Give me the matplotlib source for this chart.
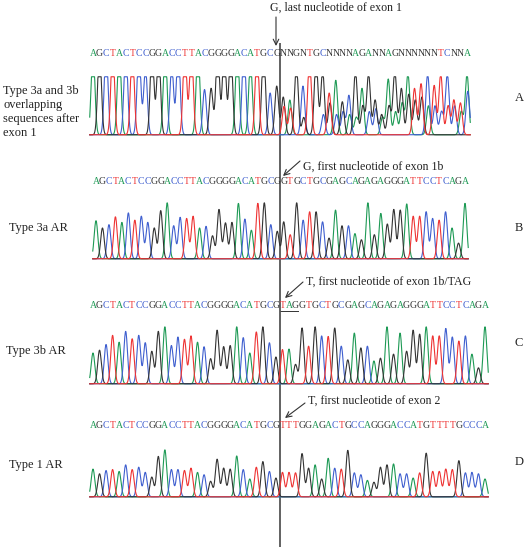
"""
Sanger chromatograms of the AR exon 1 junction, four transcript types
"""

import matplotlib.pyplot as plt
import numpy as np

plt.rcParams['font.family'] = ['Liberation Serif', 'DejaVu Serif']

W, H = 528, 550

# called base sequences printed above each trace
SEQ_A = "AGCTACTCCGGACCTTACGGGGACATGCGNNGNTGCNNNNAGANNAGNNNNNNTCNNA"
SEQ_B = "AGCTACTCCGGACCTTACGGGGACATGCGGTGCTGCGAGCAGAGAGGGATTCCTCAGA"
SEQ_C = "AGCTACTCCGGACCTTACGGGGACATGCGTAGGTGCTGCGAGCAGAGAGGGATTCCTCAGA"
SEQ_D = "AGCTACTCCGGACCTTACGGGGACATGCGTTTGGAGACTGCCAGGGACCATGTTTTGCCCA"

# panel A is a mix of two templates after exon 1: main and secondary peaks
A_MAIN = "AGCTACTCCGGACCTTACGGGGACATGCGGAGCTGGTAGCGAGGGAGGATTCTTCTTA"
A_MAIN_H = [1.5, 1.5, 1.5, 1.5, 1.5, 1.5, 1.5, 1.5, 1.15, 1.5,
            1.5, 1.5, 1.2, 1.5, 1.5, 1.5, 1.5, 0.78, 0.8, 1.5,
            1.5, 1.5, 1.5, 1.5, 1.25, 1.5, 1.5, 0.72, 0.84,
            0.65, 0.6, 1.2, 0.84, 1.3, 1.3, 1.1, 0.72, 0.94, 0.57,
            0.68, 1.1, 0.8, 1.05, 0.6, 0.35, 0.96, 1.1, 0.8, 1.05,
            0.8, 0.88, 1.05, 0.85, 1.05, 1.05, 0.6, 0.55, 1.05]
A_SEC = "-----------------------------TT-G--CGCCAAGCCAGAAGGGACCTCAC"
A_SEC_H = [0] * 29 + [0.49, 0.46, 0, 0.3, 0, 0, 0.35, 0.55, 0.35, 0.4,
                      0.35, 0.3, 0.5, 0.4, 0.45, 0.3, 0.5, 0.4, 0.55, 0.7,
                      0.6, 0.65, 0.5, 0.5, 0.4, 0.5, 0.5, 0.4, 0.75]

B_H = [0.68, 0.55, 0.61, 0.75, 0.65, 0.82, 0.69, 0.76, 0.65, 0.55,
       0.86, 1.0, 0.59, 0.74, 0.72, 0.76, 0.55, 0.58, 0.41, 0.88,
       0.64, 0.65, 0.99, 0.71, 0.51, 0.99, 1.0, 0.61, 0.49, 0.66,
       0.43, 1.0, 0.69, 0.84, 0.84, 0.66, 0.37, 0.87, 0.59, 0.59,
       0.45, 0.34, 1.0, 0.43, 0.81, 0.62, 0.88, 0.87, 0.98, 0.76,
       0.76, 0.84, 0.72, 0.69, 0.84, 0.55, 0.28, 0.99]

C_H = [0.54, 0.59, 0.69, 0.85, 0.73, 0.92, 0.79, 0.85, 0.72, 0.57,
       0.92, 1.0, 0.67, 0.82, 0.78, 0.84, 0.73, 0.65, 0.44, 0.94,
       0.65, 0.67, 1.0, 0.81, 0.54, 0.91, 1.0, 0.72, 0.47, 0.60,
       0.61, 0.34, 0.98, 0.66, 1.0, 0.84, 0.83, 0.98, 0.66, 0.42,
       0.89, 0.63, 0.66, 0.40, 0.45, 1.0, 0.52, 0.89, 0.57, 0.94,
       0.87, 1.0, 0.84, 0.84, 0.97, 0.82, 0.75, 0.84, 0.52, 0.28, 1.0]

D_H = [0.59, 0.49, 0.56, 0.58, 0.54, 0.68, 0.58, 0.63, 0.52, 0.42,
       0.86, 1.0, 0.58, 0.58, 0.56, 0.61, 0.52, 0.47, 0.33, 0.80,
       0.61, 0.59, 0.87, 0.58, 0.38, 0.63, 0.75, 0.54, 0.40, 0.52,
       0.52, 0.51, 0.92, 0.61, 0.68, 0.38, 0.82, 0.61, 0.59, 0.99,
       0.51, 0.47, 0.35, 0.31, 0.63, 0.68, 0.70, 0.49, 0.49, 0.40,
       0.51, 0.93, 0.54, 0.54, 0.59, 0.58, 0.77, 0.51, 0.52, 0.49, 0.38]

BASE_COL = {'A': '#1e9a55', 'C': '#3f5fcf', 'G': '#333333',
            'T': '#ee3333', 'N': '#333333'}
TRACE_ORDER = ['A', 'C', 'G', 'T']
SIGMA = 0.28

# panel geometry in pixels: first/last peak x, letter row y, peak top y, baseline y
PANELS = [
    dict(seq=SEQ_A, x0=93, x1=467, ty=53, top=77, base=135),
    dict(seq=SEQ_B, x0=96, x1=465, ty=182, top=203, base=259),
    dict(seq=SEQ_C, x0=93, x1=485, ty=306, top=327, base=384),
    dict(seq=SEQ_D, x0=93, x1=485, ty=425, top=450, base=497),
]

fig = plt.figure(figsize=(W / 100, H / 100), dpi=100)
ov = fig.add_axes([0, 0, 1, 1])
ov.set_xlim(0, W)
ov.set_ylim(H, 0)
ov.axis('off')


def px_axes(left, top, right, bottom):
    return fig.add_axes([left / W, 1 - bottom / H,
                         (right - left) / W, (bottom - top) / H])


def peaks(x, bases, heights, shift=0.0):
    out = {b: np.zeros_like(x) for b in TRACE_ORDER}
    for i, (b, h) in enumerate(zip(bases, heights)):
        if b in out and h > 0:
            out[b] += h * np.exp(-(x - i - shift) ** 2 / (2 * SIGMA ** 2))
    return out


traces = [
    [(A_MAIN, A_MAIN_H, 0.0), (A_SEC, A_SEC_H, 0.12)],
    [(SEQ_B, B_H, 0.0)],
    [(SEQ_C, C_H, 0.0)],
    [(SEQ_D, D_H, 0.0)],
]

for p, tr in zip(PANELS, traces):
    n = len(p['seq'])
    dx = (p['x1'] - p['x0']) / (n - 1)
    ax = px_axes(p['x0'] - 0.5 * dx, p['top'], p['x1'] + 0.5 * dx, p['base'])
    ax.set_xlim(-0.5, n - 0.5)
    ax.set_ylim(0, 1)
    ax.axis('off')
    x = np.linspace(-0.5, n - 0.5, 1500)
    total = {b: np.zeros_like(x) for b in TRACE_ORDER}
    for bases, hs, sh in tr:
        part = peaks(x, bases, hs, sh)
        for b in TRACE_ORDER:
            total[b] += part[b]
    for b in ['A', 'C', 'G', 'T']:
        ax.plot(x, np.minimum(total[b], 1.0) + 0.004, color=BASE_COL[b],
                lw=0.8, clip_on=False)
    yfrac = (p['base'] - p['ty']) / (p['base'] - p['top'])
    for i, ch in enumerate(p['seq']):
        ax.text(i, yfrac, ch, transform=ax.get_xaxis_transform(),
                ha='center', va='center', fontsize=7, color=BASE_COL[ch])
    p['dx'] = dx

# underline TAG in panel C
pc = PANELS[2]
ov.plot([pc['x0'] + 28.6 * pc['dx'], pc['x0'] + 31.4 * pc['dx']], [311, 311],
        color='#333333', lw=0.7)

# vertical junction line between exon 1 and the next exon
pa = PANELS[0]
xj = pa['x0'] + 28.5 * pa['dx']
ov.vlines(xj, 43, 547, color='#555555', lw=1.3)

arrow = dict(arrowstyle='->', color='#333333', lw=0.8, shrinkA=0, shrinkB=0)
fs = 8.6
ov.annotate('', xy=(276, 46), xytext=(276, 17), arrowprops=arrow)
ov.text(270, 8, 'G, last nucleotide of exon 1', fontsize=fs,
        ha='left', va='center', color='#222222')
ov.annotate('', xy=(283, 176), xytext=(300, 161), arrowprops=arrow)
ov.text(303, 167, 'G, first nucleotide of exon 1b', fontsize=fs,
        ha='left', va='center', color='#222222')
ov.annotate('', xy=(285, 298), xytext=(303, 282), arrowprops=arrow)
ov.text(306, 282, 'T, first nucleotide of exon 1b/TAG', fontsize=fs,
        ha='left', va='center', color='#222222')
ov.annotate('', xy=(285, 418), xytext=(305, 403), arrowprops=arrow)
ov.text(308, 401, 'T, first nucleotide of exon 2', fontsize=fs,
        ha='left', va='center', color='#222222')

fl = 8.9
ov.text(3, 112, 'Type 3a and 3b\noverlapping\nsequences after\nexon 1',
        fontsize=fl, ha='left', va='center', linespacing=1.22, color='#222222')
ov.text(9, 228, 'Type 3a AR', fontsize=fl, ha='left', va='center', color='#222222')
ov.text(6, 351, 'Type 3b AR', fontsize=fl, ha='left', va='center', color='#222222')
ov.text(9, 465, 'Type 1 AR', fontsize=fl, ha='left', va='center', color='#222222')

for lab, y in zip(['A', 'B', 'C', 'D'], [98, 228, 343, 462]):
    ov.text(519, y, lab, fontsize=9, ha='center', va='center', color='#222222')

fig.savefig('out.png', dpi=100)
